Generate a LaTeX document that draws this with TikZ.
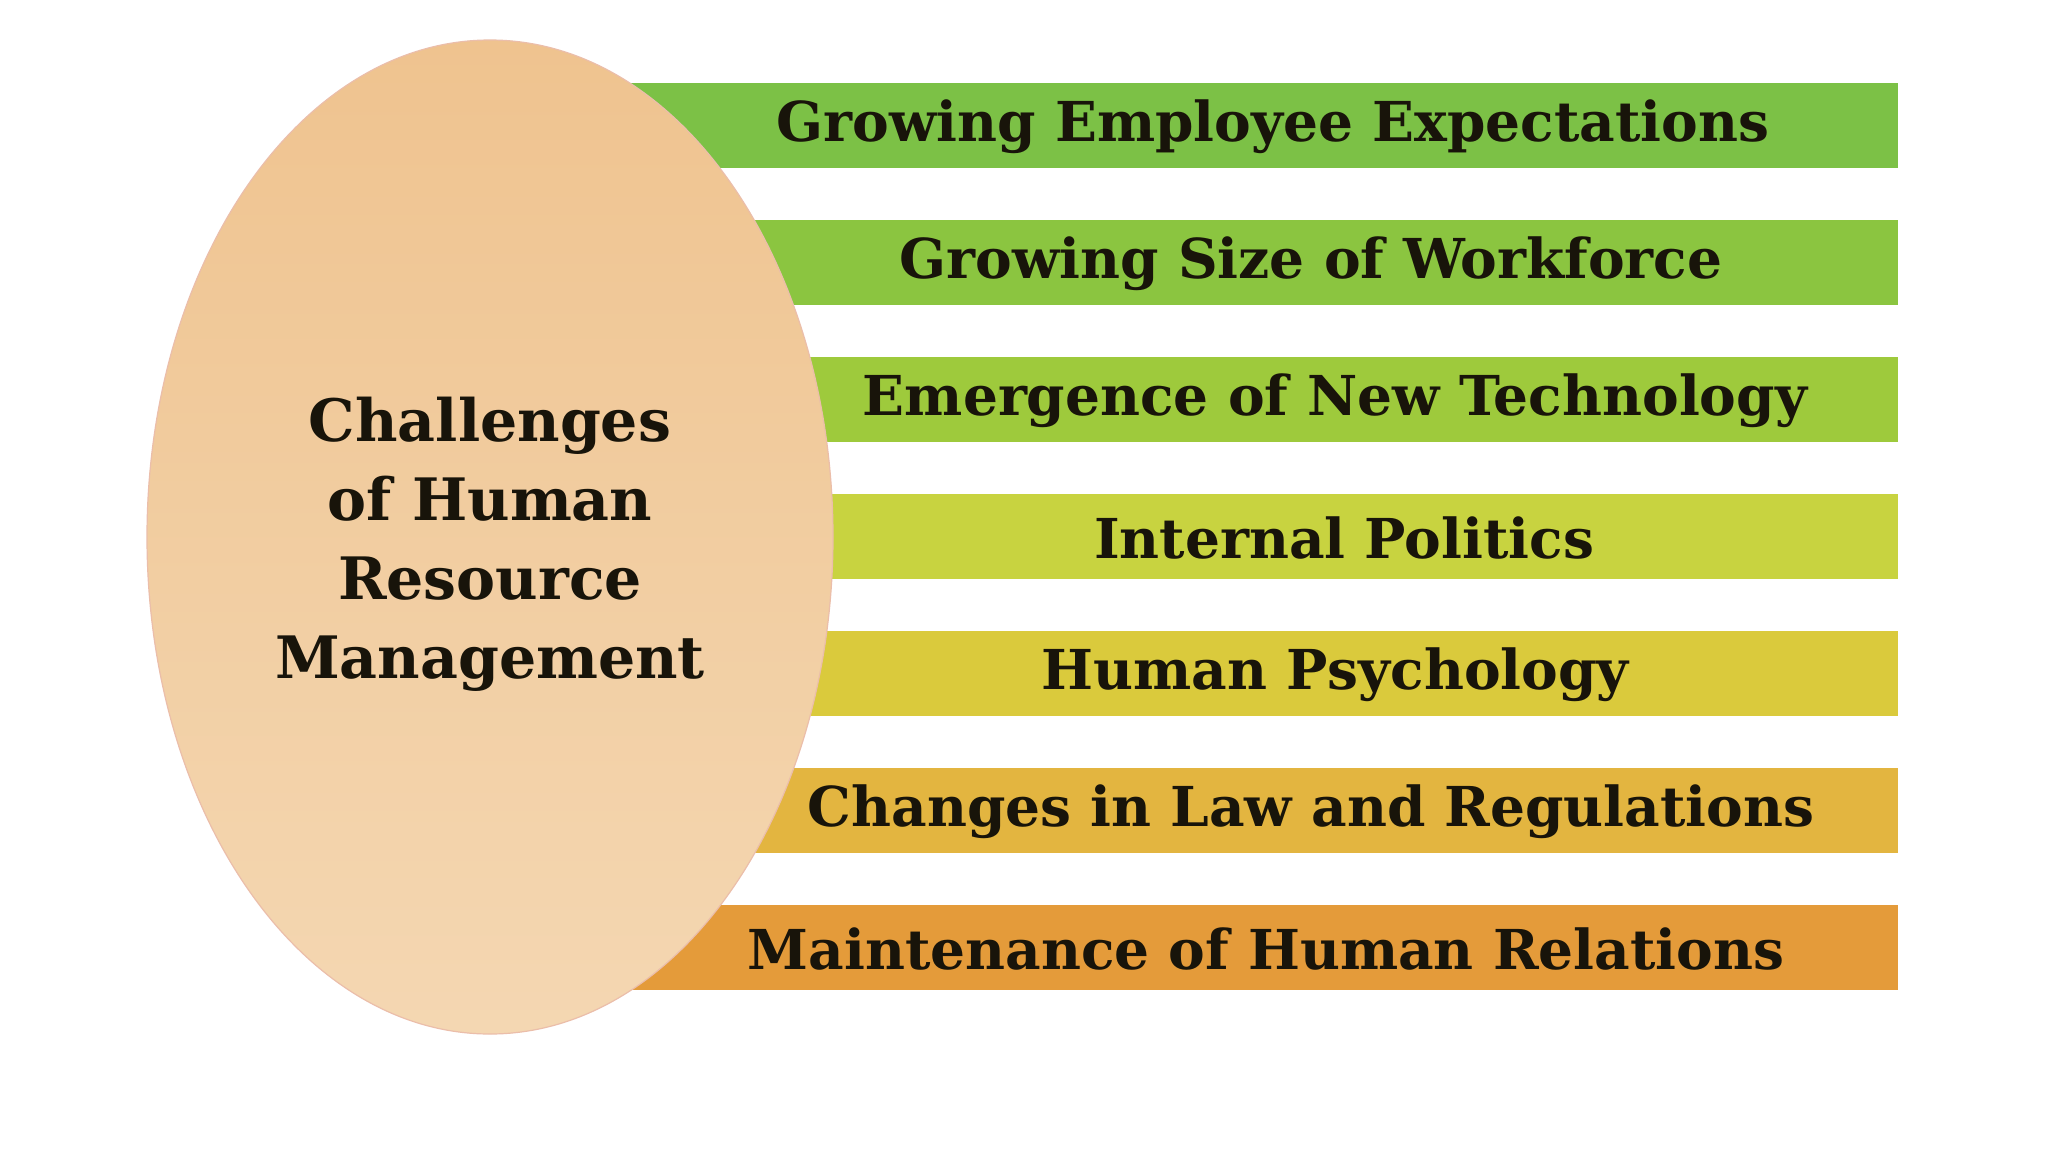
\documentclass[tikz,border=0pt]{standalone}
\usepackage{fontspec}
\setmainfont{DejaVu Serif}
\usetikzlibrary{shapes.geometric}
\definecolor{cA}{RGB}{124,193,70}
\definecolor{cB}{RGB}{139,197,64}
\definecolor{cC}{RGB}{158,202,60}
\definecolor{cD}{RGB}{200,211,64}
\definecolor{cE}{RGB}{218,202,60}
\definecolor{cF}{RGB}{227,181,64}
\definecolor{cG}{RGB}{228,155,58}
\definecolor{txt}{RGB}{24,20,10}
\definecolor{eggtop}{RGB}{239,195,143}
\definecolor{eggbot}{RGB}{244,215,178}
\definecolor{eggline}{RGB}{235,190,170}
\tikzset{
  bar/.style={inner sep=0pt, outer sep=0pt, anchor=north west, minimum height=85pt},
  bartext/.style={text=txt, font=\bfseries\fontsize{55}{60}\selectfont, inner sep=0pt, anchor=center},
  egg/.style={ellipse, minimum width=686pt, minimum height=994pt, inner sep=0pt,
    top color=eggtop, bottom color=eggbot, draw=eggline, line width=1.2pt}
}
\begin{document}
\begin{tikzpicture}[x=1pt,y=-1pt]
\useasboundingbox (0,0) rectangle (2048,1152);
\fill[white] (0,0) rectangle (2048,1152);
% bars
\foreach \i/\c in {0/cA,1/cB,2/cC,3/cD,4/cE,5/cF,6/cG}{
  \node[bar, fill=\c, minimum width=1408pt] (b\i) at (490,{83+137*\i}) {};
}
% ellipse
\node[egg] (egg) at (490,537) {};
\node[text=txt, align=center, font=\bfseries\fontsize{58.5}{79}\selectfont, inner sep=0pt] (eggtext) at (490,544) {Challenges\\of Human\\Resource\\Management};
% bar texts
\node[bartext] (t0) at (1273,127) {Growing Employee Expectations};
\node[bartext] (t1) at (1311,264) {Growing Size of Workforce};
\node[bartext] (t2) at (1335,401) {Emergence of New Technology};
\node[bartext] (t3) at (1344,538) {Internal Politics};
\node[bartext] (t4) at (1335,675) {Human Psychology};
\node[bartext] (t5) at (1311,812) {Changes in Law and Regulations};
\node[bartext] (t6) at (1266,949) {Maintenance of Human Relations};
\end{tikzpicture}
\end{document}
